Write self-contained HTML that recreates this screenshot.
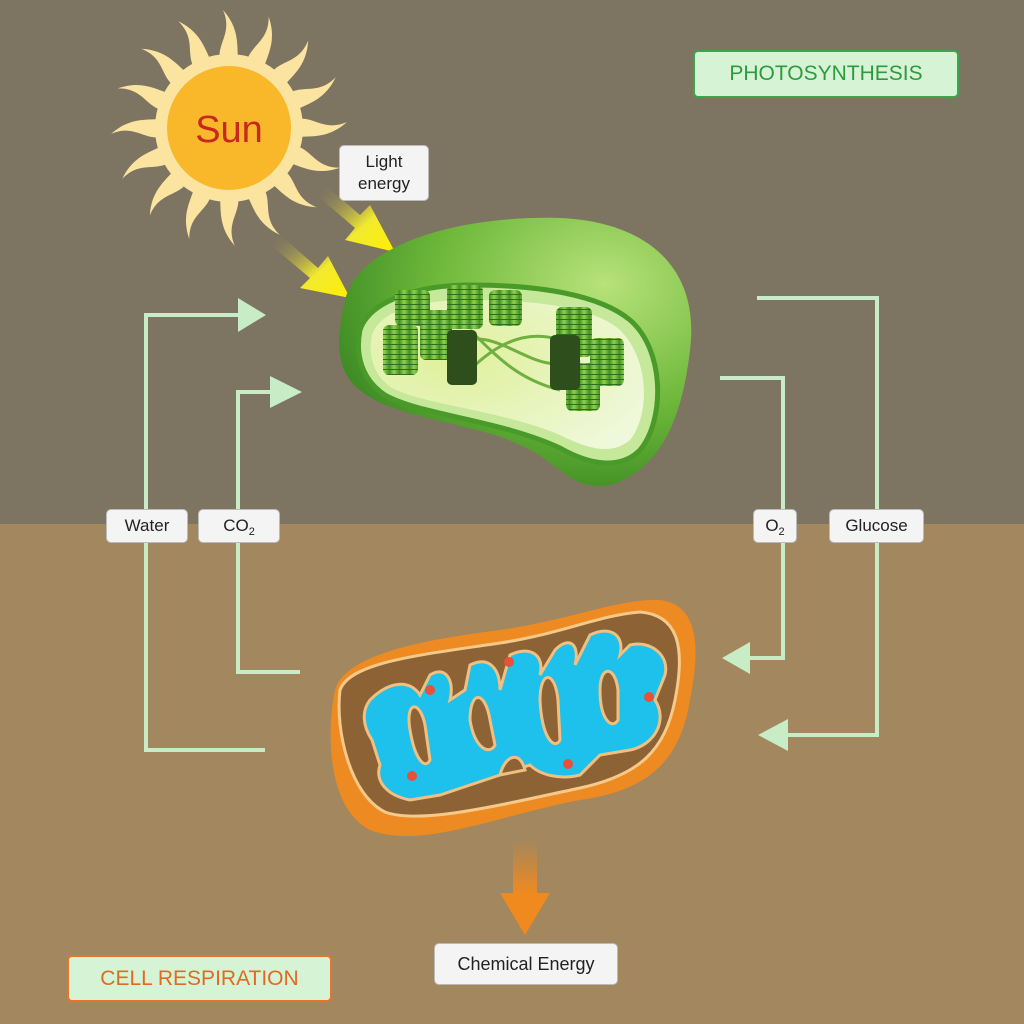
<!DOCTYPE html>
<html><head><meta charset="utf-8"><style>
html,body{margin:0;padding:0}
body{width:1024px;height:1024px;position:relative;overflow:hidden;font-family:"Liberation Sans",sans-serif;background:#a3875e}
.lbl{position:absolute;background:#f4f4f4;border:1px solid #bbb;border-radius:5px;color:#222;font-size:17px;display:flex;align-items:center;justify-content:center;text-align:center;line-height:22px}
.sb{font-size:11px;position:relative;top:6px}
</style></head><body>
<svg width="1024" height="1024" style="position:absolute;left:0;top:0">
<defs>
<radialGradient id="g1" cx="0.75" cy="0.25" r="0.8"><stop offset="0" stop-color="#b8e27a"/><stop offset="0.6" stop-color="#6db83a"/><stop offset="1" stop-color="#3f8c25"/></radialGradient>
<radialGradient id="g2" cx="0.3" cy="0.4" r="0.8"><stop offset="0" stop-color="#dff09a"/><stop offset="1" stop-color="#f0f8dc"/></radialGradient>
<linearGradient id="ya" x1="0" y1="0" x2="1" y2="1"><stop offset="0" stop-color="#7e7462" stop-opacity="0"/><stop offset="0.6" stop-color="#f2ea30"/><stop offset="1" stop-color="#ffee00"/></linearGradient>
<linearGradient id="oa" x1="0" y1="0" x2="0" y2="1"><stop offset="0" stop-color="#a3875e"/><stop offset="1" stop-color="#f08a1e"/></linearGradient>
<linearGradient id="stk" x1="0" x2="1"><stop offset="0" stop-color="#4f9a2a"/><stop offset="0.4" stop-color="#8fd050"/><stop offset="1" stop-color="#3f8a22"/></linearGradient>
<pattern id="rings" width="10" height="5" patternUnits="userSpaceOnUse"><rect width="10" height="5" fill="url(#stk)"/><rect y="4" width="10" height="1" fill="#2f6e18"/></pattern>
</defs>
<rect x="0" y="0" width="1024" height="524" fill="#7e7462"/>
<!-- sun -->
<g transform="translate(229,128)">
<g fill="#fbe3a0">
<circle r="74"/>
<g id="ray"><path d="M-9,-68 C-12,-85 4,-95 -6,-118 C10,-100 8,-85 9,-68Z"/></g>
<use href="#ray" transform="rotate(22.5)"/><use href="#ray" transform="rotate(45)"/><use href="#ray" transform="rotate(67.5)"/>
<use href="#ray" transform="rotate(90)"/><use href="#ray" transform="rotate(112.5)"/><use href="#ray" transform="rotate(135)"/><use href="#ray" transform="rotate(157.5)"/>
<use href="#ray" transform="rotate(180)"/><use href="#ray" transform="rotate(202.5)"/><use href="#ray" transform="rotate(225)"/><use href="#ray" transform="rotate(247.5)"/>
<use href="#ray" transform="rotate(270)"/><use href="#ray" transform="rotate(292.5)"/><use href="#ray" transform="rotate(315)"/><use href="#ray" transform="rotate(337.5)"/>
</g>
<circle r="62" fill="#f8b82a"/>
<text x="0" y="14" text-anchor="middle" font-size="38" fill="#c8281e" font-family="Liberation Sans">Sun</text>
</g>
<!-- light arrows -->
<path d="M325,185 L360,215 L370,205 L395,252 L345,240 L355,228 L320,198Z" fill="url(#ya)"/>
<path d="M280,235 L318,268 L328,256 L350,298 L300,288 L310,278 L272,246Z" fill="url(#ya)"/>
<!-- chloroplast -->
<path d="M345,300 C360,240 470,215 560,218 C650,222 700,270 690,350 C682,420 660,470 610,485 C570,492 560,462 520,445 C470,420 380,420 350,380 C335,360 338,330 345,300Z" fill="url(#g1)"/>
<path d="M360,330 C370,300 420,285 470,285 C540,285 600,295 630,320 C665,350 665,420 640,450 C620,470 590,465 560,448 C500,420 420,415 385,395 C362,380 355,355 360,330Z" fill="#c6e89a" stroke="#4a9a2a" stroke-width="5"/>
<path d="M372,335 C380,310 420,300 470,300 C540,300 595,308 620,330 C650,360 650,415 630,440 C612,455 590,450 560,435 C500,410 425,405 392,388 C372,375 368,352 372,335Z" fill="url(#g2)"/>
<path d="M470,330 C500,360 520,380 560,390 M470,370 C500,340 530,330 560,340 M450,345 C500,320 530,380 580,360" stroke="#6fb040" stroke-width="3" fill="none"/>
<g fill="url(#rings)">
<rect x="395" y="290" width="35" height="36" rx="6"/><rect x="447" y="285" width="36" height="44" rx="6"/><rect x="489" y="290" width="33" height="36" rx="6"/>
<rect x="420" y="310" width="32" height="50" rx="6"/><rect x="383" y="325" width="35" height="50" rx="6"/>
<rect x="556" y="307" width="36" height="50" rx="6"/><rect x="590" y="338" width="34" height="48" rx="6"/><rect x="566" y="363" width="34" height="48" rx="6"/>
</g>
<rect x="447" y="330" width="30" height="55" rx="5" fill="#2e4f1c"/>
<rect x="550" y="335" width="30" height="55" rx="5" fill="#2e4f1c"/>
<!-- connectors -->
<g stroke="#c8ecc6" stroke-width="4" fill="none">
<polyline points="240,315 146,315 146,750 265,750"/>
<polyline points="275,392 238,392 238,672 300,672"/>
<polyline points="720,378 783,378 783,658 748,658"/>
<polyline points="757,298 877,298 877,735 785,735"/>
</g>
<g fill="#c8ecc6">
<path d="M238,298 L266,315 L238,332Z"/><path d="M270,376 L302,392 L270,408Z"/>
<path d="M750,642 L722,658 L750,674Z"/><path d="M788,719 L758,735 L788,751Z"/>
</g>
<!-- mitochondrion -->
<path d="M335,690 C345,655 420,640 500,630 C570,620 620,598 660,600 C700,605 700,650 690,700 C680,760 650,790 580,800 C500,815 420,850 370,830 C330,810 325,740 335,690Z" fill="#ee8a22"/>
<path d="M340,690 C350,662 420,655 500,643 C560,634 600,615 640,612 C680,615 685,650 675,700 C665,750 640,775 580,788 C500,805 420,825 385,812 C350,795 335,730 340,690Z" fill="#8d6336" stroke="#f5c98a" stroke-width="3"/>
<path d="M370,700 C390,680 410,680 420,695 L430,675 C445,665 455,680 450,700 L465,690 L470,665 C490,655 500,670 500,690 L510,655 C530,645 545,655 540,675 L555,650 C570,635 580,645 575,665 L590,635 C610,625 625,635 620,655 L630,645 C650,640 670,655 665,675 L655,700 C668,720 655,745 630,750 L600,755 L580,775 C560,780 540,775 530,765 L500,775 L470,785 L440,795 L410,800 C385,795 375,780 380,765 L372,740 C362,725 362,710 370,700Z" fill="#1ec0ec" stroke="#f0c080" stroke-width="3"/>
<g fill="#8d6336" stroke="#f0c080" stroke-width="3">
<path d="M410,730 C405,700 420,700 425,725 L430,760 C425,770 415,760 410,730Z"/>
<path d="M470,720 C470,690 485,690 490,720 L495,745 C490,755 475,750 470,720Z"/>
<path d="M540,700 C540,670 555,670 558,700 L560,740 C555,750 542,740 540,700Z"/>
<path d="M600,690 C600,665 615,665 618,690 L618,720 C612,730 600,720 600,690Z"/>
<path d="M500,775 C505,755 520,750 525,770Z"/>
</g>
<g fill="#e8503a"><circle cx="430" cy="690" r="5"/><circle cx="509" cy="662" r="5"/><circle cx="649" cy="697" r="5"/><circle cx="568" cy="764" r="5"/><circle cx="412" cy="776" r="5"/></g>
<!-- chemical energy arrow -->
<rect x="513" y="840" width="24" height="55" fill="url(#oa)"/>
<path d="M500,893 L550,893 L525,935Z" fill="#f08a1e"/>
</svg>
<div class="lbl" style="left:339px;top:145px;width:88px;height:54px">Light<br>energy</div>
<div class="lbl" style="left:106px;top:509px;width:80px;height:32px">Water</div>
<div class="lbl" style="left:198px;top:509px;width:80px;height:32px">CO<span class="sb">2</span></div>
<div class="lbl" style="left:753px;top:509px;width:42px;height:32px">O<span class="sb">2</span></div>
<div class="lbl" style="left:829px;top:509px;width:93px;height:32px">Glucose</div>
<div class="lbl" style="left:434px;top:943px;width:182px;height:40px;font-size:18px">Chemical Energy</div>
<div class="lbl" style="left:693px;top:50px;width:262px;height:44px;background:#d6f3d6;border:2px solid #3aa84a;color:#2e9a3e;font-size:21px">PHOTOSYNTHESIS</div>
<div class="lbl" style="left:67px;top:955px;width:261px;height:43px;background:#d6f3d6;border:2px solid #e8742a;color:#e06a22;font-size:21px">CELL RESPIRATION</div>
</body></html>
